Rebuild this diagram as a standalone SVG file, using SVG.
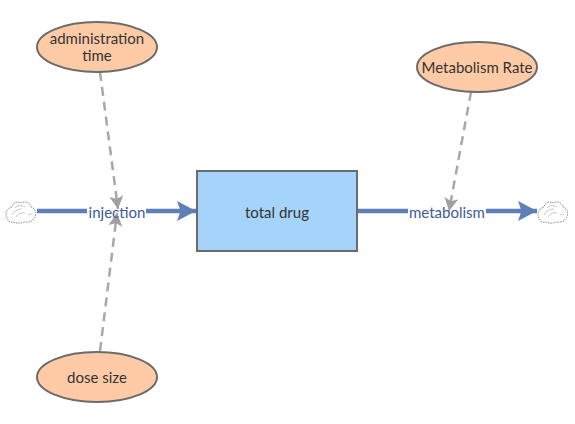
<svg xmlns="http://www.w3.org/2000/svg" width="575" height="424" viewBox="0 0 575 424">
<style>
text{font-family:"Lato","Noto Sans","DejaVu Sans",sans-serif;font-size:15px;text-anchor:middle;fill:#333}
.aux{fill:#ffcba6;stroke:#6b6b6b;stroke-width:2}
.flow{fill:none;stroke:#5f7fb8;stroke-width:4.5}
.link{fill:none;stroke:#a8a8a8;stroke-width:2.5;stroke-dasharray:9 6}
text.lbl{fill:#3c5a9e}
.cloud{fill:#fff;stroke:#707070;stroke-width:.8;stroke-dasharray:1.5 1}
.cin{fill:none;stroke:#a0a0a0;stroke-width:.6}
</style>
<defs>
<marker id="fa" markerUnits="userSpaceOnUse" markerWidth="22" markerHeight="22" refX="19" refY="10" orient="auto"><path d="M0 0L19 10L0 20L3.500 10Z" fill="#5f7fb8"/></marker>
<marker id="la" markerUnits="userSpaceOnUse" markerWidth="16" markerHeight="16" refX="13" refY="7" orient="auto"><path d="M0 0L13 7L0 14L3 7Z" fill="#a0a0a0"/></marker>
<g id="cl"><path class="cloud" d="M-14 6C-17 0-13-4-9-5C-8-10-3-11 0-9C4-11 9-10 10-5C15-4 16 3 13 6C11 11 6 10 3 10C-1 12-5 11-8 10C-11 11-13 9-14 6Z"/><path class="cin" d="M-9 3C-7-1-3-3 1-3M-5 5C-3 2 0 0 4 1M-6-4C-3-7 1-7 4-5M7 3C9 2 10 2 11 3"/></g>
</defs>
<g id="connectors">
<path class="flow" d="M37 211H87"/>
<path class="flow" d="M146 211H196" marker-end="url(#fa)"/>
<path class="flow" d="M358 211H408"/>
<path class="flow" d="M486 211H537" marker-end="url(#fa)"/>
<path class="link" d="M100 72L118 209" marker-end="url(#la)"/>
<path class="link" d="M100 351L117 213" marker-end="url(#la)"/>
<path class="link" d="M471 92L449 211" marker-end="url(#la)"/>
</g>
<g id="cloud-in"><use href="#cl" x="21" y="212"/></g>
<g id="cloud-out"><use href="#cl" x="553" y="212"/></g>
<g id="injection"><text class="lbl" x="117" y="218">injection</text></g>
<g id="metabolism"><text class="lbl" x="447" y="218">metabolism</text></g>
<g id="total-drug"><rect x="197" y="171" width="160" height="80" fill="#a6d3fa" stroke="#6b6b6b" stroke-width="2"/><text x="277" y="218">total drug</text></g>
<g id="administration-time"><ellipse class="aux" cx="97" cy="47" rx="60" ry="25"/><text x="97" y="44">administration</text><text x="97" y="61">time</text></g>
<g id="metabolism-rate"><ellipse class="aux" cx="477" cy="67" rx="60" ry="25"/><text x="477" y="73">Metabolism Rate</text></g>
<g id="dose-size"><ellipse class="aux" cx="97" cy="377" rx="60" ry="25"/><text x="97" y="383">dose size</text></g>
</svg>
